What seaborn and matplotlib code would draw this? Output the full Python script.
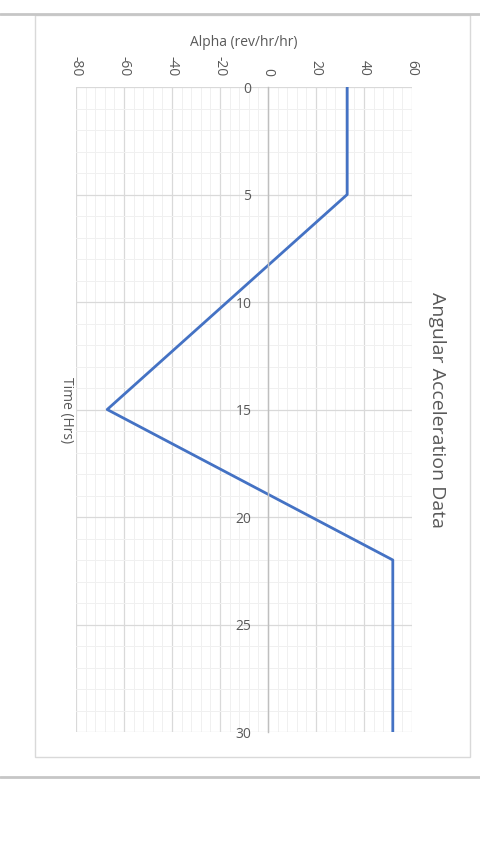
import numpy as np
import pandas as pd
import matplotlib
matplotlib.use('Agg')
import matplotlib.pyplot as plt
from matplotlib.patches import Rectangle
from matplotlib.lines import Line2D
from matplotlib.ticker import MultipleLocator
import seaborn as sns

time_hrs = [0, 5, 15, 22, 30]
alpha = [33, 33, -67, 52, 52]
alpha_ticks = [-80, -60, -40, -20, 0, 20, 40, 60]
time_ticks = [0, 5, 10, 15, 20, 25, 30]

sns.set_style('white')
plt.rcParams['font.family'] = ['Open Sans', 'DejaVu Sans']
W, H = 481, 847
fig = plt.figure(figsize=(W / 100, H / 100), dpi=100)
txt = '#595959'

# chart frame and page separator lines
fig.add_artist(Rectangle((35 / W, 1 - 757 / H), 435 / W, 742 / H, transform=fig.transFigure,
                         fill=False, edgecolor='#d9d9d9', lw=1))
for yy in (14, 777):
    fig.add_artist(Line2D([0, 1], [1 - yy / H] * 2, transform=fig.transFigure, color='#c6c6c6', lw=2))

ax = fig.add_axes([76 / W, 1 - 732 / H, 336 / W, 645 / H])
df = pd.DataFrame({'alpha': alpha, 'time': time_hrs})
sns.lineplot(data=df, x='alpha', y='time', sort=False, orient='y', color='#4472C4', lw=2, ax=ax)

ax.set_xlim(-80, 60)
ax.set_ylim(30, 0)
ax.xaxis.set_major_locator(MultipleLocator(20))
ax.xaxis.set_minor_locator(MultipleLocator(4))
ax.yaxis.set_major_locator(MultipleLocator(5))
ax.yaxis.set_minor_locator(MultipleLocator(1))
ax.grid(which='major', color='#d9d9d9', lw=0.9)
ax.grid(which='minor', color='#f0f0f0', lw=0.7)
ax.set_axisbelow(True)

ax.xaxis.tick_top()
ax.set_xticks(alpha_ticks)
ax.set_xticklabels([str(v) for v in alpha_ticks])
ax.set_yticks(time_ticks)
ax.set_yticklabels([str(v) for v in time_ticks])
ax.tick_params(which='both', length=0, labelcolor=txt, labelsize=10)
ax.tick_params(axis='x', pad=8)
ax.tick_params(axis='y', pad=12)
plt.setp(ax.get_xticklabels(), rotation=-90)
plt.setp(ax.get_yticklabels(), rotation=-90, va='center')

for s in ('top', 'right', 'bottom'):
    ax.spines[s].set_visible(False)
ax.spines['left'].set_position(('data', 0))
ax.spines['left'].set_color('#bfbfbf')
ax.spines['left'].set_linewidth(1)
ax.set_xlabel('')
ax.set_ylabel('')

fig.text(244 / W, 1 - 42 / H, 'Alpha (rev/hr/hr)', ha='center', va='center', color=txt, fontsize=10)
fig.text(66 / W, 1 - 410 / H, 'Time (Hrs)', rotation=-90, ha='center', va='center', color=txt, fontsize=10)
fig.text(437 / W, 1 - 410 / H, 'Angular Acceleration Data', rotation=-90, ha='center', va='center',
         color=txt, fontsize=14)

fig.savefig('out.png', dpi=100)
